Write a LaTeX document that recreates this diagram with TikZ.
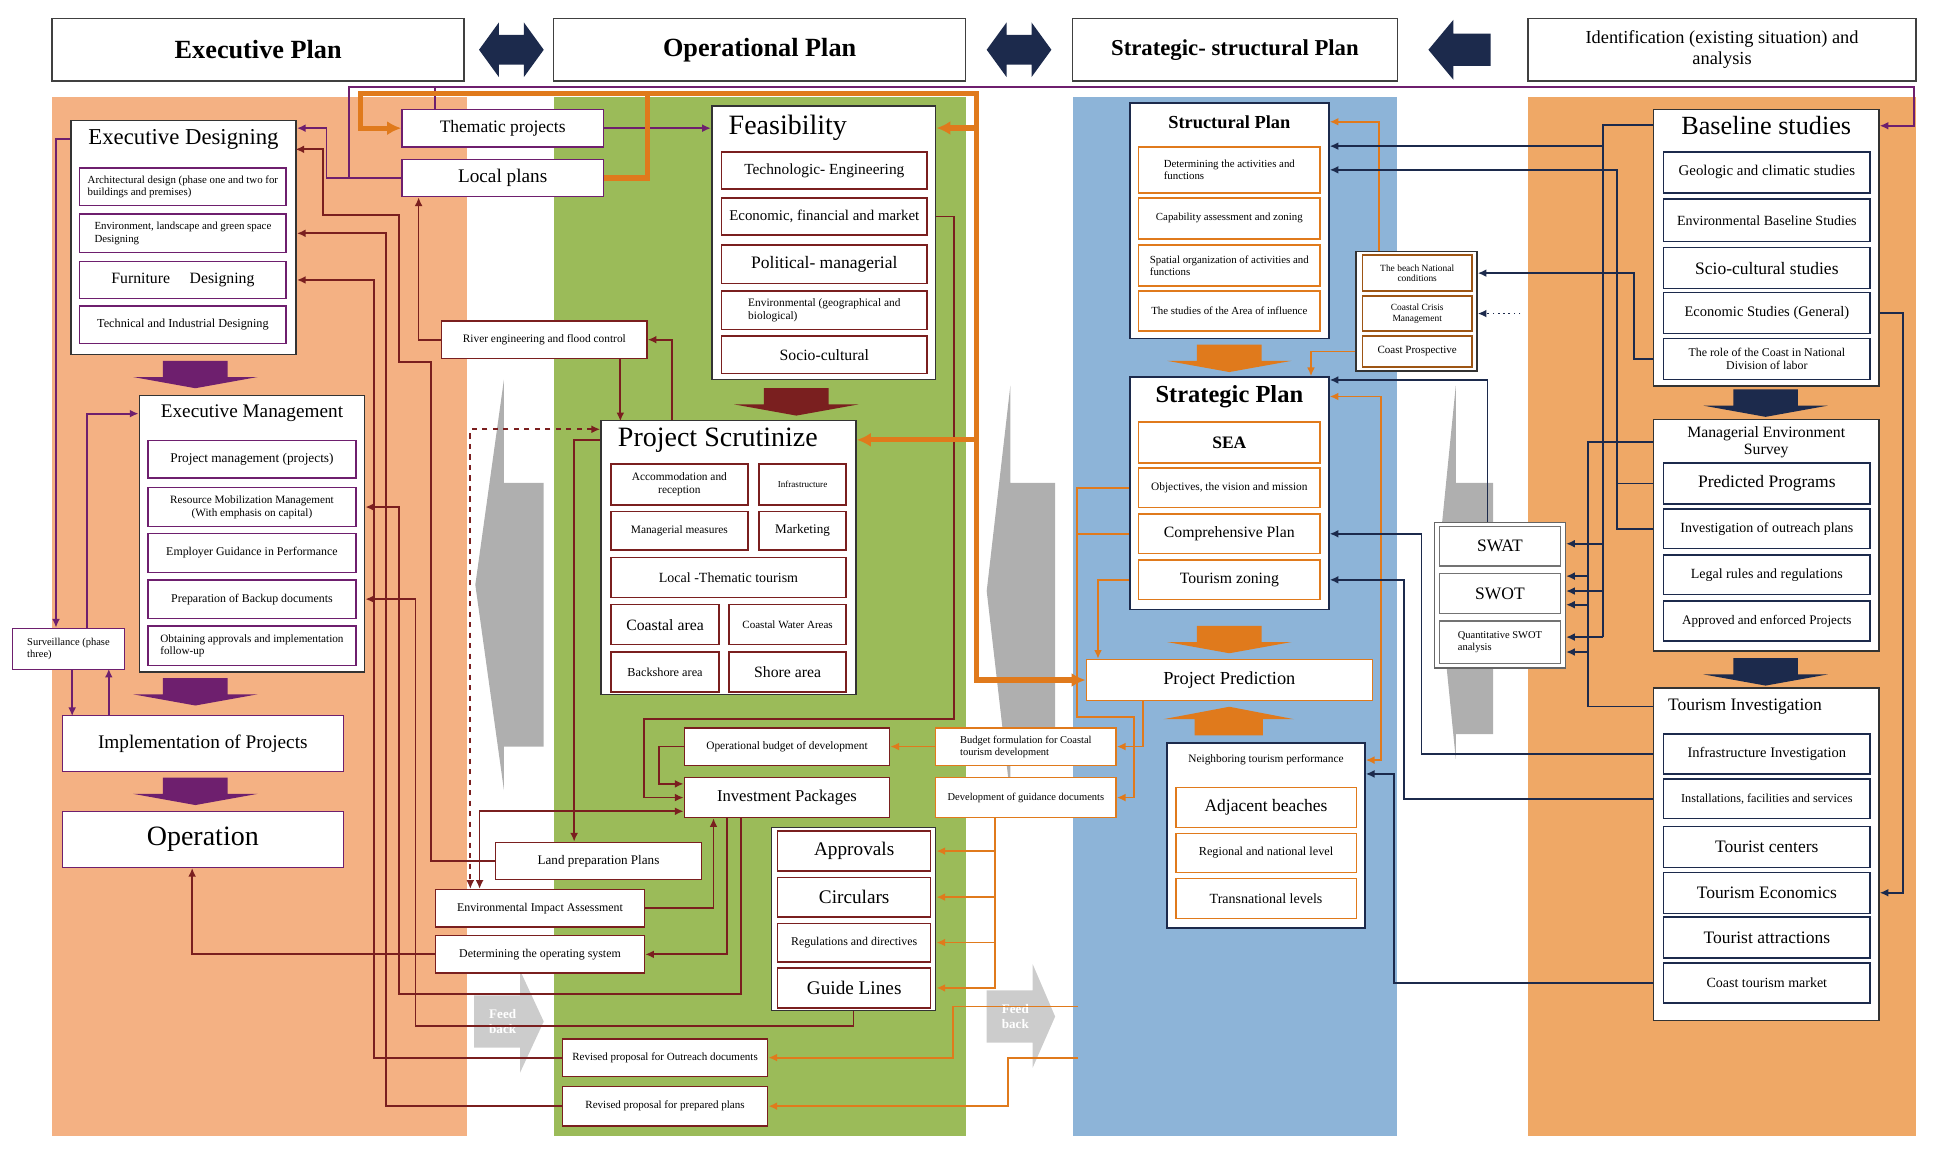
\documentclass[tikz,border=0pt]{standalone}
\usepackage{fontspec}
\setmainfont{Liberation Serif}
\usetikzlibrary{arrows.meta,positioning,calc}

\definecolor{execband}{HTML}{F4B183}
\definecolor{operband}{HTML}{9BBB59}
\definecolor{stratband}{HTML}{8DB4D8}
\definecolor{identband}{HTML}{EFA866}
\definecolor{plum}{HTML}{6E1F6E}
\definecolor{maroon}{HTML}{7A1F1F}
\definecolor{tangerine}{HTML}{E07A1C}
\definecolor{navy}{HTML}{1C2A4C}
\definecolor{shade}{HTML}{A6A6A6}

\begin{document}
\begin{tikzpicture}[
    x=0.025cm, y=-0.025cm,
    >={Latex[length=5pt,width=4.5pt]},
    cell/.style n args={4}{at={({(#1+#3)/2},{(#2+#4)/2})}, anchor=center,
        minimum width={(#3-#1)*0.025cm}, minimum height={(#4-#2)*0.025cm}},
    fs/.style 2 args={font=\fontsize{#1}{#2}\selectfont},
    fsb/.style 2 args={font=\fontsize{#1}{#2}\selectfont\bfseries},
    head/.style={draw=black!75, line width=0.9pt, fill=white, inner sep=0pt, align=center},
    outer/.style={draw=black!80, line width=0.9pt, fill=white, inner sep=0pt},
    sub/.style={draw=#1, line width=0.8pt, fill=white, inner sep=1pt, align=center},
    ttl/.style={anchor=north, inner sep=0pt, align=center},
    plumline/.style={draw=plum, line width=1pt},
    marline/.style={draw=maroon, line width=1pt},
    orline/.style={draw=tangerine, line width=1pt},
    orthick/.style={draw=tangerine, line width=3pt, >={Latex[length=8pt,width=8pt]}},
    navline/.style={draw=navy, line width=1pt},
    bigarrow/.style={fill=shade, opacity=0.9},
    fbarrow/.style={fill=black!20}
]
\useasboundingbox (0,0) rectangle (1568,936);

% plan bands
\fill[execband] (42,78) rectangle (375,913);
\fill[operband] (445,78) rectangle (776,913);
\fill[stratband] (862,78) rectangle (1123,913);
\fill[identband] (1228,78) rectangle (1540,913);

% header row
\node[head, cell={42}{15}{373}{65}, fsb={15}{17}] (hexec) {Executive Plan};
\node[head, cell={445}{15}{776}{65}, fsb={15}{17}] (hoper) {Operational Plan};
\node[head, cell={862}{15}{1123}{65}, fsb={13}{15}] (hstrat) {Strategic- structural Plan};
\node[head, cell={1228}{15}{1540}{65}, fs={10.5}{12}] (hident) {Identification (existing situation) and\\analysis};
\foreach \dx in {0,408}
  \fill[navy, shift={(\dx,0)}] (385,40) -- (401,18) -- (401,28) -- (421,28) -- (421,18) -- (437,40)
    -- (421,62) -- (421,52) -- (401,52) -- (401,62) -- cycle;
\fill[navy] (1148,40) -- (1168,16) -- (1168,27) -- (1198,27) -- (1198,53) -- (1168,53) -- (1168,64) -- cycle;

% grey transfer arrows
\fill[bigarrow] (437,388) -- (405,388) -- (405,305) -- (382,470) -- (405,635) -- (405,600) -- (437,600) -- cycle;
\fill[bigarrow] (848,388) -- (812,388) -- (812,310) -- (793,475) -- (812,640) -- (812,600) -- (848,600) -- cycle;
\fill[bigarrow] (1200,388) -- (1170,388) -- (1170,310) -- (1155,460) -- (1170,610) -- (1170,590) -- (1200,590) -- cycle;
\fill[fbarrow] (381,800) -- (418,800) -- (418,780) -- (437,821) -- (418,862) -- (418,842) -- (381,842) -- cycle;
\fill[fbarrow] (793,796) -- (830,796) -- (830,775) -- (848,817) -- (830,858) -- (830,838) -- (793,838) -- cycle;
\node[fsb={7.5}{8.5}, text=white, align=center] (fb1) at (404,821) {Feed\\back};
\node[fsb={7.5}{8.5}, text=white, align=center] (fb2) at (816,817) {Feed\\back};

% block arrows between stages
\foreach \c/\cx/\y in {plum/157/290, plum/157/545, plum/157/625, maroon/640/312,
    tangerine/988/277, tangerine/988/503, navy/1419/313, navy/1419/529}
  \fill[\c] (\cx-26,\y) -- (\cx+26,\y) -- (\cx+26,\y+13) -- (\cx+50,\y+13) -- (\cx,\y+22)
    -- (\cx-50,\y+13) -- (\cx-26,\y+13) -- cycle;
\fill[tangerine] (960,591) -- (1015,591) -- (1015,578) -- (1040,578) -- (988,568) -- (935,578) -- (960,578) -- cycle;

% executive plan
\node[outer, cell={57}{97}{238}{285}] (ed) {};
\node[ttl, fs={13}{15}] (edtitle) at ($(ed.north)+(0,7)$) {Executive Designing};
\node[sub=plum, cell={64}{135}{230}{165}, fs={6.2}{7}, align=left] (ed1) {Architectural design (phase one and two for\\buildings and premises)};
\node[sub=plum, cell={64}{172}{230}{203}, fs={6.2}{7}, align=left] (ed2) {Environment, landscape and green space\\Designing};
\node[sub=plum, cell={64}{210}{230}{240}, fs={9}{10}] (ed3) {Furniture \quad Designing};
\node[sub=plum, cell={64}{246}{230}{276}, fs={7}{8}] (ed4) {Technical and Industrial Designing};

\node[outer, cell={112}{318}{293}{540}] (em) {};
\node[ttl, fs={11}{13}] (emtitle) at ($(em.north)+(0,8)$) {Executive Management};
\node[sub=plum, cell={119}{354}{286}{384}, fs={7.6}{8.6}] (em1) {Project management (projects)};
\node[sub=plum, cell={119}{392}{286}{423}, fs={6.4}{7.2}] (em2) {Resource Mobilization Management\\(With emphasis on capital)};
\node[sub=plum, cell={119}{429}{286}{460}, fs={6.8}{7.6}] (em3) {Employer Guidance in Performance};
\node[sub=plum, cell={119}{466}{286}{497}, fs={6.8}{7.6}] (em4) {Preparation of Backup documents};
\node[sub=plum, cell={119}{503}{286}{535}, fs={6.4}{7.2}, align=left] (em5) {Obtaining approvals and implementation\\follow-up};

\node[sub=plum, cell={50}{575}{276}{620}, fs={11}{13}] (impl) {Implementation of Projects};
\node[sub=plum, cell={50}{652}{276}{697}, fs={16}{18}] (oper) {Operation};
\node[sub=plum, cell={10}{505}{100}{538}, fs={6}{6.8}, align=left] (surv) {Surveillance (phase\\three)};

% operational plan
\node[sub=plum, cell={323}{88}{485}{118}, fs={10}{12}] (them) {Thematic projects};
\node[sub=plum, cell={323}{128}{485}{158}, fs={11}{13}] (locp) {Local plans};
\node[sub=maroon, cell={355}{258}{520}{288}, fs={6.5}{7.5}] (river) {River engineering and flood control};

\node[outer, cell={572}{85}{752}{305}] (feas) {};
\node[anchor=north west, inner sep=0pt, fs={16}{18}] (feastitle) at ($(feas.north west)+(14,8)$) {Feasibility};
\node[sub=maroon, cell={580}{122}{745}{152}, fs={8.8}{10}] (feas1) {Technologic- Engineering};
\node[sub=maroon, cell={580}{159}{745}{189}, fs={8.5}{9.5}] (feas2) {Economic, financial and market};
\node[sub=maroon, cell={580}{197}{745}{228}, fs={10}{12}] (feas3) {Political- managerial};
\node[sub=maroon, cell={580}{234}{745}{265}, fs={6.5}{7.3}, align=left] (feas4) {Environmental (geographical and\\biological)};
\node[sub=maroon, cell={580}{270}{745}{300}, fs={9}{10}] (feas5) {Socio-cultural};

\node[outer, cell={483}{338}{688}{558}] (scrut) {};
\node[anchor=north west, inner sep=0pt, fs={16}{18}] (sctitle) at ($(scrut.north west)+(14,6)$) {Project Scrutinize};
\node[sub=maroon, cell={491}{373}{601}{406}, fs={6.5}{7.3}] (sc1) {Accommodation and\\reception};
\node[sub=maroon, cell={610}{373}{680}{406}, fs={5.2}{6}] (sc2) {Infrastructure};
\node[sub=maroon, cell={491}{411}{601}{442}, fs={6.5}{7.5}] (sc3) {Managerial measures};
\node[sub=maroon, cell={610}{411}{680}{442}, fs={7.5}{8.5}] (sc4) {Marketing};
\node[sub=maroon, cell={491}{448}{680}{480}, fs={8}{9}] (sc5) {Local -Thematic tourism};
\node[sub=maroon, cell={491}{486}{578}{518}, fs={9}{10}] (sc6) {Coastal area};
\node[sub=maroon, cell={586}{486}{680}{518}, fs={6.3}{7.3}] (sc7) {Coastal Water Areas};
\node[sub=maroon, cell={491}{524}{578}{556}, fs={7}{8}] (sc8) {Backshore area};
\node[sub=maroon, cell={586}{524}{680}{556}, fs={9}{10}] (sc9) {Shore area};

\node[sub=maroon, cell={550}{585}{715}{615}, fs={6.5}{7.5}] (opbud) {Operational budget of development};
\node[sub=maroon, cell={550}{625}{715}{657}, fs={9.5}{11}] (invp) {Investment Packages};
\node[sub=maroon, cell={398}{677}{564}{707}, fs={7.5}{8.5}] (landp) {Land preparation Plans};
\node[sub=maroon, cell={350}{715}{518}{745}, fs={6.8}{7.8}] (eia) {Environmental Impact Assessment};
\node[sub=maroon, cell={350}{752}{518}{782}, fs={6.8}{7.8}] (dos) {Determining the operating system};
\node[sub=maroon, cell={452}{835}{617}{865}, fs={6.3}{7.3}] (rvout) {Revised proposal for Outreach documents};
\node[sub=maroon, cell={452}{873}{617}{905}, fs={6.3}{7.3}] (rvplan) {Revised proposal for prepared plans};

\node[outer, cell={620}{665}{752}{812}] (appr) {};
\node[sub=maroon, cell={625}{668}{748}{700}, fs={11}{13}] (appr1) {Approvals};
\node[sub=maroon, cell={625}{705}{748}{737}, fs={11}{13}] (appr2) {Circulars};
\node[sub=maroon, cell={625}{742}{748}{773}, fs={6.8}{7.8}] (appr3) {Regulations and directives};
\node[sub=maroon, cell={625}{778}{748}{810}, fs={11}{13}] (appr4) {Guide Lines};

% strategic - structural plan
\node[sub=tangerine, cell={752}{585}{897}{615}, fs={6}{6.8}, align=left] (bform) {Budget formulation for Coastal\\tourism development};
\node[sub=tangerine, cell={752}{625}{897}{657}, fs={6}{6.8}] (dguide) {Development of guidance documents};

\node[outer, draw=navy, cell={908}{83}{1068}{272}] (struc) {};
\node[ttl, fsb={10.5}{12}] (structitle) at ($(struc.north)+(0,10)$) {Structural Plan};
\node[sub=tangerine, cell={915}{118}{1061}{155}, fs={6.2}{7}, align=left] (st1) {Determining the activities and\\functions};
\node[sub=tangerine, cell={915}{159}{1061}{192}, fs={6.2}{7}] (st2) {Capability assessment and zoning};
\node[sub=tangerine, cell={915}{197}{1061}{230}, fs={6.2}{7}, align=left] (st3) {Spatial organization of activities and\\functions};
\node[sub=tangerine, cell={915}{234}{1061}{266}, fs={6.2}{7}] (st4) {The studies of the Area of influence};

\node[outer, draw=navy, cell={908}{303}{1068}{490}] (strat) {};
\node[ttl, fsb={14}{16}] (sptitle) at ($(strat.north)+(0,7)$) {Strategic Plan};
\node[sub=tangerine, cell={915}{339}{1061}{372}, fsb={10}{12}] (sp1) {SEA};
\node[sub=tangerine, cell={915}{376}{1061}{408}, fs={6.5}{7.5}] (sp2) {Objectives, the vision and mission};
\node[sub=tangerine, cell={915}{413}{1061}{445}, fs={9}{10}] (sp3) {Comprehensive Plan};
\node[sub=tangerine, cell={915}{450}{1061}{482}, fs={9}{10}] (sp4) {Tourism zoning};

\node[outer, cell={1090}{202}{1187}{298}] (beach) {};
\node[sub=tangerine!70!black, cell={1095}{205}{1183}{234}, fs={5.4}{6.1}] (bn1) {The beach National\\conditions};
\node[sub=tangerine!70!black, cell={1095}{238}{1183}{266}, fs={5.4}{6.1}] (bn2) {Coastal Crisis\\Management};
\node[sub=tangerine!70!black, cell={1095}{270}{1183}{295}, fs={6.3}{7.3}] (bn3) {Coast Prospective};

\node[sub=tangerine, cell={873}{530}{1103}{563}, fs={10.5}{12}] (pred) {Project Prediction};

\node[outer, draw=navy, cell={938}{597}{1097}{746}] (ntp) {};
\node[ttl, fs={6.5}{7.5}] (ntptitle) at ($(ntp.north)+(0,10)$) {Neighboring tourism performance};
\node[sub=tangerine, cell={945}{633}{1090}{665}, fs={10}{12}] (nt1) {Adjacent beaches};
\node[sub=tangerine, cell={945}{670}{1090}{701}, fs={7}{8}] (nt2) {Regional and national level};
\node[sub=tangerine, cell={945}{706}{1090}{738}, fs={8}{9}] (nt3) {Transnational levels};

\node[outer, draw=black!60, cell={1153}{420}{1258}{537}] (swot) {};
\node[sub=black!55, cell={1157}{423}{1254}{455}, fs={10}{12}] (sw1) {SWAT};
\node[sub=black!55, cell={1157}{461}{1254}{493}, fs={10}{12}] (sw2) {SWOT};
\node[sub=black!55, cell={1157}{499}{1254}{533}, fs={6}{6.8}, align=left] (sw3) {Quantitative SWOT\\analysis};

% identification and analysis
\node[outer, cell={1329}{88}{1510}{310}] (base) {};
\node[ttl, fs={15}{17}] (btitle) at ($(base.north)+(0,6)$) {Baseline studies};
\node[sub=navy, cell={1337}{122}{1503}{155}, fs={8.5}{9.5}] (bs1) {Geologic and climatic studies};
\node[sub=navy, cell={1337}{160}{1503}{194}, fs={8}{9}] (bs2) {Environmental Baseline Studies};
\node[sub=navy, cell={1337}{199}{1503}{232}, fs={10}{12}] (bs3) {Scio-cultural studies};
\node[sub=navy, cell={1337}{235}{1503}{268}, fs={8.3}{9.3}] (bs4) {Economic Studies (General)};
\node[sub=navy, cell={1337}{272}{1503}{305}, fs={6.8}{7.6}] (bs5) {The role of the Coast in National\\Division of labor};

\node[outer, cell={1329}{337}{1510}{523}] (mes) {};
\node[ttl, fs={9}{10}] (mestitle) at ($(mes.north)+(0,6)$) {Managerial Environment\\Survey};
\node[sub=navy, cell={1337}{372}{1503}{405}, fs={10}{12}] (me1) {Predicted Programs};
\node[sub=navy, cell={1337}{409}{1503}{441}, fs={8}{9}] (me2) {Investigation of outreach plans};
\node[sub=navy, cell={1337}{446}{1503}{478}, fs={8}{9}] (me3) {Legal rules and regulations};
\node[sub=navy, cell={1337}{483}{1503}{515}, fs={7.5}{8.5}] (me4) {Approved and enforced Projects};

\node[outer, cell={1329}{553}{1510}{820}] (tinv) {};
\node[anchor=north west, inner sep=0pt, fs={10}{12}] (tinvtitle) at ($(tinv.north west)+(12,9)$) {Tourism Investigation};
\node[sub=navy, cell={1337}{590}{1503}{622}, fs={8.3}{9.3}] (ti1) {Infrastructure Investigation};
\node[sub=navy, cell={1337}{626}{1503}{658}, fs={7}{8}] (ti2) {Installations, facilities and services};
\node[sub=navy, cell={1337}{664}{1503}{697}, fs={10}{12}] (ti3) {Tourist centers};
\node[sub=navy, cell={1337}{701}{1503}{734}, fs={10}{12}] (ti4) {Tourism Economics};
\node[sub=navy, cell={1337}{737}{1503}{770}, fs={10}{12}] (ti5) {Tourist attractions};
\node[sub=navy, cell={1337}{774}{1503}{806}, fs={8}{9}] (ti6) {Coast tourism market};

% executive links
\coordinate (pbus) at (1538,70);
\draw[plumline,->] (locp.west) -- ++(-60,0) |- (ed.east |- them);
\draw[plumline,->] ($(locp.west)+(-42,0)$) -- ++(0,-73) -- (pbus) |- (base.east |- btitle);
\draw[plumline] ($(them.north west)+(27,0)$) -- ++(0,-18);
\draw[plumline,->] (them.east) -- (them.east -| feas.west);
\draw[plumline,->] (ed.west |- edtitle) -| ($(surv.north)+(-10,0)$);
\draw[plumline,->] ($(surv.north)+(15,0)$) |- (em.west |- emtitle);
\draw[plumline,->] ($(surv.south)+(3,0)$) -- ++(0,37);
\draw[plumline,->] ($(impl.north west)+(38,0)$) -- ++(0,-37);

% operational links
\coordinate (dsh) at (378,345);
\draw[marline,->] (river.west) -| ($(locp.south west)+(14,0)$);
\draw[marline,->] ($(scrut.north west)+(58,0)$) |- (river.east);
\draw[marline,->] ($(river.south east)+(-22,0)$) -- ++(0,50);
\draw[marline,dashed,<->] (scrut.west |- dsh) -- (dsh) -- (dsh |- eia.north);
\draw[marline,->] (scrut.west |- sctitle) -| ($(landp.north west)+(64,0)$);
\draw[marline,->] (landp.west) -- ++(-51,0) -- ++(0,-401) -- ++(-26,0) -- ++(0,-118)
    -- ++(-61,0) -- ++(0,-53) -- ++(-22,0);
\draw[marline,->] ($(invp.south west)+(46,0)$) -- ++(0,141) -- ++(-275,0) |- (em.east |- em2);
\draw[marline,->] (appr.south) -- ++(0,12) -- ++(-352,0) |- (em.east |- em4);
\draw[marline,->] (rvout.west) -- ++(-151,0) |- (ed.east |- ed3);
\draw[marline,->] (rvplan.west) -- ++(-141,0) |- (ed.east |- ed2);
\draw[marline,->] (dos.west) -| ($(oper.south west)+(105,0)$);
\draw[marline,->] (eia.east) -| ($(invp.south west)+(24,0)$);
\draw[marline,->] ($(invp.south west)+(35,0)$) |- (dos.east);
\draw[marline,->] (opbud.west) -- ++(-20,0) |- ($(invp.west)+(0,-11)$);
\draw[marline,->] (feas.east |- feas2) -- ++(14,0) -- ++(0,404) -- ++(-249,0) |- (invp.west);
\draw[marline,<->] ($(invp.west)+(0,11)$) -| ($(eia.north west)+(36,0)$);

% strategic links (orange)
\coordinate (obusL) at (290,75);
\coordinate (obusR) at (785,75);
\coordinate (fbA) at (866,809);
\coordinate (fbB) at (866,850);
\draw[orthick,<->] (them.west) -| (obusL) -- (obusR) |- (pred.west);
\draw[orthick] (locp.east) -- ++(35,0) -- ++(0,-68);
\draw[orthick,->] (obusR |- feastitle) -- (feas.east |- feastitle);
\draw[orthick,->] (obusR |- sctitle) -- (scrut.east |- sctitle);
\draw[orline,->] (bform.west) -- (opbud.east);
\foreach \n in {appr1,appr2,appr3,appr4}
  \draw[orline,->] ($(dguide.south west)+(48,0)$) |- (appr.east |- \n);
\draw[orline,->] (fbA) -- ++(-100,0) |- (rvout.east);
\draw[orline,->] (fbB) -- ++(-56,0) |- (rvplan.east);
\draw[orline,->] ($(pred.south west)+(46,0)$) |- (bform.east);
\draw[orline,->] (strat.west |- sp2) -- ++(-42,0) -- ++(0,184) -- ++(46,0) |- (dguide.east);
\draw[orline] (strat.west |- sp3) -- ++(-42,0);
\draw[orline,->] (strat.west |- sp4) -| ($(pred.north west)+(10,0)$);
\draw[orline,->] ($(beach.north west)+(19,0)$) |- (struc.east |- structitle);
\draw[orline,->] (beach.west |- bn3) -| ($(strat.north east)+(-15,0)$);
\draw[orline,<->] (strat.east |- sptitle) -- ++(41,0) |- (ntp.east |- ntptitle);

% identification links (navy)
\coordinate (nbx) at ($(base.north west)+(-40,13)$);
\coordinate (nmx) at ($(mes.north west)+(-52,0)$);
\coordinate (dotend) at (1222,252);
\draw[navline] ($(base.north west)+(0,13)$) -- (nbx) -- (nbx |- 0,512);
\draw[navline,->] (nbx |- st1.north) -- (struc.east |- st1.north);
\foreach \yy in {437,475,512}
  \draw[navline,->] (nbx |- 0,\yy) -- (swot.east |- 0,\yy);
\draw[navline] (mes.west |- mestitle) -- (nmx |- mestitle) |- (tinv.west |- tinvtitle);
\foreach \yy in {463,486,524}
  \draw[navline,->] (nmx |- 0,\yy) -- (swot.east |- 0,\yy);
\draw[navline,->] (mes.west |- me2) -- ++(-29,0) |- (struc.east |- st1);
\draw[navline] (mes.west |- me1) -- ++(-29,0);
\draw[navline,->] (base.west |- bs5) -- ++(-15,0) |- (beach.east |- bn1);
\draw[navline,dotted,->] (dotend) -- (beach.east |- bn2);
\draw[navline,->] ($(swot.north)+(-10,0)$) |- ($(strat.north east)+(0,3)$);
\draw[navline,->] (tinv.west |- ti1) -- ++(-186,0) |- (strat.east |- sp3);
\draw[navline,->] (tinv.west |- ti2) -- ++(-200,0) |- (strat.east |- sp4);
\draw[navline,->] (tinv.west |- ti6) -- ++(-208,0) |- (ntp.east |- 0,622);
\draw[navline,->] (base.east |- bs4) -- ++(19,0) |- (tinv.east |- ti4);

\end{tikzpicture}
\end{document}
